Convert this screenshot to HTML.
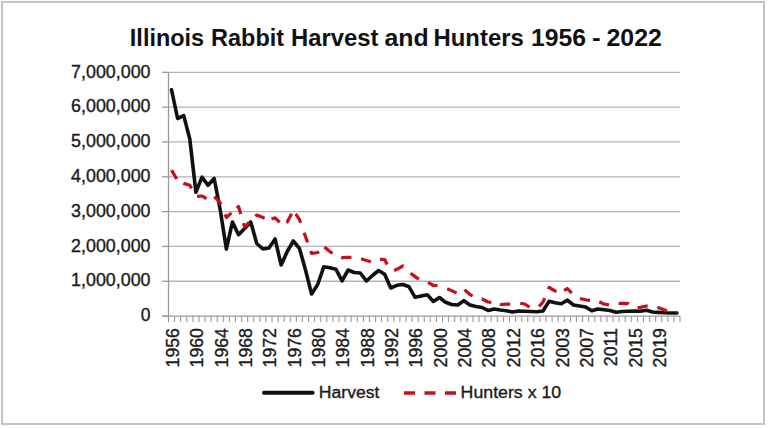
<!DOCTYPE html>
<html><head><meta charset="utf-8"><style>
html,body{margin:0;padding:0;background:#fff;}
body{width:768px;height:428px;overflow:hidden;position:relative;}
.frame{position:absolute;left:1px;top:1px;width:760px;height:420px;border:2px solid #c4c4c4;box-sizing:content-box;}
svg{position:absolute;left:0;top:0;}
.lb{font-family:"Liberation Sans",sans-serif;font-size:17.3px;fill:#1a1a1a;stroke:#1a1a1a;stroke-width:0.35px;}
.tt{font-family:"Liberation Sans",sans-serif;font-size:24.7px;font-weight:bold;fill:#111;}
</style></head><body>
<div class="frame"></div>
<svg width="768" height="428" viewBox="0 0 768 428">
<line x1="168.5" y1="281.27" x2="680.0" y2="281.27" stroke="#b3b3b3" stroke-width="1.3"/>
<line x1="168.5" y1="246.44" x2="680.0" y2="246.44" stroke="#b3b3b3" stroke-width="1.3"/>
<line x1="168.5" y1="211.61" x2="680.0" y2="211.61" stroke="#b3b3b3" stroke-width="1.3"/>
<line x1="168.5" y1="176.79" x2="680.0" y2="176.79" stroke="#b3b3b3" stroke-width="1.3"/>
<line x1="168.5" y1="141.96" x2="680.0" y2="141.96" stroke="#b3b3b3" stroke-width="1.3"/>
<line x1="168.5" y1="107.13" x2="680.0" y2="107.13" stroke="#b3b3b3" stroke-width="1.3"/>
<line x1="168.5" y1="72.30" x2="680.0" y2="72.30" stroke="#b3b3b3" stroke-width="1.3"/>
<line x1="162" y1="316.10" x2="168.5" y2="316.10" stroke="#9a9a9a" stroke-width="1.3"/>
<line x1="162" y1="281.27" x2="168.5" y2="281.27" stroke="#9a9a9a" stroke-width="1.3"/>
<line x1="162" y1="246.44" x2="168.5" y2="246.44" stroke="#9a9a9a" stroke-width="1.3"/>
<line x1="162" y1="211.61" x2="168.5" y2="211.61" stroke="#9a9a9a" stroke-width="1.3"/>
<line x1="162" y1="176.79" x2="168.5" y2="176.79" stroke="#9a9a9a" stroke-width="1.3"/>
<line x1="162" y1="141.96" x2="168.5" y2="141.96" stroke="#9a9a9a" stroke-width="1.3"/>
<line x1="162" y1="107.13" x2="168.5" y2="107.13" stroke="#9a9a9a" stroke-width="1.3"/>
<line x1="162" y1="72.30" x2="168.5" y2="72.30" stroke="#9a9a9a" stroke-width="1.3"/>
<line x1="168.5" y1="72.30" x2="168.5" y2="322.10" stroke="#9a9a9a" stroke-width="1.3"/>
<line x1="162.5" y1="316.10" x2="680.0" y2="316.10" stroke="#9a9a9a" stroke-width="1.3"/>
<line x1="174.59" y1="316.10" x2="174.59" y2="322.10" stroke="#9a9a9a" stroke-width="1.1"/>
<line x1="180.68" y1="316.10" x2="180.68" y2="322.10" stroke="#9a9a9a" stroke-width="1.1"/>
<line x1="186.77" y1="316.10" x2="186.77" y2="322.10" stroke="#9a9a9a" stroke-width="1.1"/>
<line x1="192.86" y1="316.10" x2="192.86" y2="322.10" stroke="#9a9a9a" stroke-width="1.1"/>
<line x1="198.95" y1="316.10" x2="198.95" y2="322.10" stroke="#9a9a9a" stroke-width="1.1"/>
<line x1="205.04" y1="316.10" x2="205.04" y2="322.10" stroke="#9a9a9a" stroke-width="1.1"/>
<line x1="211.12" y1="316.10" x2="211.12" y2="322.10" stroke="#9a9a9a" stroke-width="1.1"/>
<line x1="217.21" y1="316.10" x2="217.21" y2="322.10" stroke="#9a9a9a" stroke-width="1.1"/>
<line x1="223.30" y1="316.10" x2="223.30" y2="322.10" stroke="#9a9a9a" stroke-width="1.1"/>
<line x1="229.39" y1="316.10" x2="229.39" y2="322.10" stroke="#9a9a9a" stroke-width="1.1"/>
<line x1="235.48" y1="316.10" x2="235.48" y2="322.10" stroke="#9a9a9a" stroke-width="1.1"/>
<line x1="241.57" y1="316.10" x2="241.57" y2="322.10" stroke="#9a9a9a" stroke-width="1.1"/>
<line x1="247.66" y1="316.10" x2="247.66" y2="322.10" stroke="#9a9a9a" stroke-width="1.1"/>
<line x1="253.75" y1="316.10" x2="253.75" y2="322.10" stroke="#9a9a9a" stroke-width="1.1"/>
<line x1="259.84" y1="316.10" x2="259.84" y2="322.10" stroke="#9a9a9a" stroke-width="1.1"/>
<line x1="265.93" y1="316.10" x2="265.93" y2="322.10" stroke="#9a9a9a" stroke-width="1.1"/>
<line x1="272.02" y1="316.10" x2="272.02" y2="322.10" stroke="#9a9a9a" stroke-width="1.1"/>
<line x1="278.11" y1="316.10" x2="278.11" y2="322.10" stroke="#9a9a9a" stroke-width="1.1"/>
<line x1="284.20" y1="316.10" x2="284.20" y2="322.10" stroke="#9a9a9a" stroke-width="1.1"/>
<line x1="290.29" y1="316.10" x2="290.29" y2="322.10" stroke="#9a9a9a" stroke-width="1.1"/>
<line x1="296.38" y1="316.10" x2="296.38" y2="322.10" stroke="#9a9a9a" stroke-width="1.1"/>
<line x1="302.46" y1="316.10" x2="302.46" y2="322.10" stroke="#9a9a9a" stroke-width="1.1"/>
<line x1="308.55" y1="316.10" x2="308.55" y2="322.10" stroke="#9a9a9a" stroke-width="1.1"/>
<line x1="314.64" y1="316.10" x2="314.64" y2="322.10" stroke="#9a9a9a" stroke-width="1.1"/>
<line x1="320.73" y1="316.10" x2="320.73" y2="322.10" stroke="#9a9a9a" stroke-width="1.1"/>
<line x1="326.82" y1="316.10" x2="326.82" y2="322.10" stroke="#9a9a9a" stroke-width="1.1"/>
<line x1="332.91" y1="316.10" x2="332.91" y2="322.10" stroke="#9a9a9a" stroke-width="1.1"/>
<line x1="339.00" y1="316.10" x2="339.00" y2="322.10" stroke="#9a9a9a" stroke-width="1.1"/>
<line x1="345.09" y1="316.10" x2="345.09" y2="322.10" stroke="#9a9a9a" stroke-width="1.1"/>
<line x1="351.18" y1="316.10" x2="351.18" y2="322.10" stroke="#9a9a9a" stroke-width="1.1"/>
<line x1="357.27" y1="316.10" x2="357.27" y2="322.10" stroke="#9a9a9a" stroke-width="1.1"/>
<line x1="363.36" y1="316.10" x2="363.36" y2="322.10" stroke="#9a9a9a" stroke-width="1.1"/>
<line x1="369.45" y1="316.10" x2="369.45" y2="322.10" stroke="#9a9a9a" stroke-width="1.1"/>
<line x1="375.54" y1="316.10" x2="375.54" y2="322.10" stroke="#9a9a9a" stroke-width="1.1"/>
<line x1="381.62" y1="316.10" x2="381.62" y2="322.10" stroke="#9a9a9a" stroke-width="1.1"/>
<line x1="387.71" y1="316.10" x2="387.71" y2="322.10" stroke="#9a9a9a" stroke-width="1.1"/>
<line x1="393.80" y1="316.10" x2="393.80" y2="322.10" stroke="#9a9a9a" stroke-width="1.1"/>
<line x1="399.89" y1="316.10" x2="399.89" y2="322.10" stroke="#9a9a9a" stroke-width="1.1"/>
<line x1="405.98" y1="316.10" x2="405.98" y2="322.10" stroke="#9a9a9a" stroke-width="1.1"/>
<line x1="412.07" y1="316.10" x2="412.07" y2="322.10" stroke="#9a9a9a" stroke-width="1.1"/>
<line x1="418.16" y1="316.10" x2="418.16" y2="322.10" stroke="#9a9a9a" stroke-width="1.1"/>
<line x1="424.25" y1="316.10" x2="424.25" y2="322.10" stroke="#9a9a9a" stroke-width="1.1"/>
<line x1="430.34" y1="316.10" x2="430.34" y2="322.10" stroke="#9a9a9a" stroke-width="1.1"/>
<line x1="436.43" y1="316.10" x2="436.43" y2="322.10" stroke="#9a9a9a" stroke-width="1.1"/>
<line x1="442.52" y1="316.10" x2="442.52" y2="322.10" stroke="#9a9a9a" stroke-width="1.1"/>
<line x1="448.61" y1="316.10" x2="448.61" y2="322.10" stroke="#9a9a9a" stroke-width="1.1"/>
<line x1="454.70" y1="316.10" x2="454.70" y2="322.10" stroke="#9a9a9a" stroke-width="1.1"/>
<line x1="460.79" y1="316.10" x2="460.79" y2="322.10" stroke="#9a9a9a" stroke-width="1.1"/>
<line x1="466.88" y1="316.10" x2="466.88" y2="322.10" stroke="#9a9a9a" stroke-width="1.1"/>
<line x1="472.96" y1="316.10" x2="472.96" y2="322.10" stroke="#9a9a9a" stroke-width="1.1"/>
<line x1="479.05" y1="316.10" x2="479.05" y2="322.10" stroke="#9a9a9a" stroke-width="1.1"/>
<line x1="485.14" y1="316.10" x2="485.14" y2="322.10" stroke="#9a9a9a" stroke-width="1.1"/>
<line x1="491.23" y1="316.10" x2="491.23" y2="322.10" stroke="#9a9a9a" stroke-width="1.1"/>
<line x1="497.32" y1="316.10" x2="497.32" y2="322.10" stroke="#9a9a9a" stroke-width="1.1"/>
<line x1="503.41" y1="316.10" x2="503.41" y2="322.10" stroke="#9a9a9a" stroke-width="1.1"/>
<line x1="509.50" y1="316.10" x2="509.50" y2="322.10" stroke="#9a9a9a" stroke-width="1.1"/>
<line x1="515.59" y1="316.10" x2="515.59" y2="322.10" stroke="#9a9a9a" stroke-width="1.1"/>
<line x1="521.68" y1="316.10" x2="521.68" y2="322.10" stroke="#9a9a9a" stroke-width="1.1"/>
<line x1="527.77" y1="316.10" x2="527.77" y2="322.10" stroke="#9a9a9a" stroke-width="1.1"/>
<line x1="533.86" y1="316.10" x2="533.86" y2="322.10" stroke="#9a9a9a" stroke-width="1.1"/>
<line x1="539.95" y1="316.10" x2="539.95" y2="322.10" stroke="#9a9a9a" stroke-width="1.1"/>
<line x1="546.04" y1="316.10" x2="546.04" y2="322.10" stroke="#9a9a9a" stroke-width="1.1"/>
<line x1="552.12" y1="316.10" x2="552.12" y2="322.10" stroke="#9a9a9a" stroke-width="1.1"/>
<line x1="558.21" y1="316.10" x2="558.21" y2="322.10" stroke="#9a9a9a" stroke-width="1.1"/>
<line x1="564.30" y1="316.10" x2="564.30" y2="322.10" stroke="#9a9a9a" stroke-width="1.1"/>
<line x1="570.39" y1="316.10" x2="570.39" y2="322.10" stroke="#9a9a9a" stroke-width="1.1"/>
<line x1="576.48" y1="316.10" x2="576.48" y2="322.10" stroke="#9a9a9a" stroke-width="1.1"/>
<line x1="582.57" y1="316.10" x2="582.57" y2="322.10" stroke="#9a9a9a" stroke-width="1.1"/>
<line x1="588.66" y1="316.10" x2="588.66" y2="322.10" stroke="#9a9a9a" stroke-width="1.1"/>
<line x1="594.75" y1="316.10" x2="594.75" y2="322.10" stroke="#9a9a9a" stroke-width="1.1"/>
<line x1="600.84" y1="316.10" x2="600.84" y2="322.10" stroke="#9a9a9a" stroke-width="1.1"/>
<line x1="606.93" y1="316.10" x2="606.93" y2="322.10" stroke="#9a9a9a" stroke-width="1.1"/>
<line x1="613.02" y1="316.10" x2="613.02" y2="322.10" stroke="#9a9a9a" stroke-width="1.1"/>
<line x1="619.11" y1="316.10" x2="619.11" y2="322.10" stroke="#9a9a9a" stroke-width="1.1"/>
<line x1="625.20" y1="316.10" x2="625.20" y2="322.10" stroke="#9a9a9a" stroke-width="1.1"/>
<line x1="631.29" y1="316.10" x2="631.29" y2="322.10" stroke="#9a9a9a" stroke-width="1.1"/>
<line x1="637.38" y1="316.10" x2="637.38" y2="322.10" stroke="#9a9a9a" stroke-width="1.1"/>
<line x1="643.46" y1="316.10" x2="643.46" y2="322.10" stroke="#9a9a9a" stroke-width="1.1"/>
<line x1="649.55" y1="316.10" x2="649.55" y2="322.10" stroke="#9a9a9a" stroke-width="1.1"/>
<line x1="655.64" y1="316.10" x2="655.64" y2="322.10" stroke="#9a9a9a" stroke-width="1.1"/>
<line x1="661.73" y1="316.10" x2="661.73" y2="322.10" stroke="#9a9a9a" stroke-width="1.1"/>
<line x1="667.82" y1="316.10" x2="667.82" y2="322.10" stroke="#9a9a9a" stroke-width="1.1"/>
<line x1="673.91" y1="316.10" x2="673.91" y2="322.10" stroke="#9a9a9a" stroke-width="1.1"/>
<line x1="680.00" y1="316.10" x2="680.00" y2="322.10" stroke="#9a9a9a" stroke-width="1.1"/>
<text x="150.5" y="321.30" text-anchor="end" class="lb" style="font-size:17.5px">0</text>
<text x="150.5" y="286.47" text-anchor="end" class="lb" style="font-size:17.5px" textLength="79.4" lengthAdjust="spacingAndGlyphs">1,000,000</text>
<text x="150.5" y="251.64" text-anchor="end" class="lb" style="font-size:17.5px" textLength="79.4" lengthAdjust="spacingAndGlyphs">2,000,000</text>
<text x="150.5" y="216.81" text-anchor="end" class="lb" style="font-size:17.5px" textLength="79.4" lengthAdjust="spacingAndGlyphs">3,000,000</text>
<text x="150.5" y="181.99" text-anchor="end" class="lb" style="font-size:17.5px" textLength="79.4" lengthAdjust="spacingAndGlyphs">4,000,000</text>
<text x="150.5" y="147.16" text-anchor="end" class="lb" style="font-size:17.5px" textLength="79.4" lengthAdjust="spacingAndGlyphs">5,000,000</text>
<text x="150.5" y="112.33" text-anchor="end" class="lb" style="font-size:17.5px" textLength="79.4" lengthAdjust="spacingAndGlyphs">6,000,000</text>
<text x="150.5" y="77.50" text-anchor="end" class="lb" style="font-size:17.5px" textLength="79.4" lengthAdjust="spacingAndGlyphs">7,000,000</text>
<text transform="translate(178.84,328.10) rotate(-90)" text-anchor="end" class="lb" style="font-size:17.7px">1956</text>
<text transform="translate(203.20,328.10) rotate(-90)" text-anchor="end" class="lb" style="font-size:17.7px">1960</text>
<text transform="translate(227.56,328.10) rotate(-90)" text-anchor="end" class="lb" style="font-size:17.7px">1964</text>
<text transform="translate(251.92,328.10) rotate(-90)" text-anchor="end" class="lb" style="font-size:17.7px">1968</text>
<text transform="translate(276.27,328.10) rotate(-90)" text-anchor="end" class="lb" style="font-size:17.7px">1972</text>
<text transform="translate(300.63,328.10) rotate(-90)" text-anchor="end" class="lb" style="font-size:17.7px">1976</text>
<text transform="translate(324.99,328.10) rotate(-90)" text-anchor="end" class="lb" style="font-size:17.7px">1980</text>
<text transform="translate(349.34,328.10) rotate(-90)" text-anchor="end" class="lb" style="font-size:17.7px">1984</text>
<text transform="translate(373.70,328.10) rotate(-90)" text-anchor="end" class="lb" style="font-size:17.7px">1988</text>
<text transform="translate(398.06,328.10) rotate(-90)" text-anchor="end" class="lb" style="font-size:17.7px">1992</text>
<text transform="translate(422.42,328.10) rotate(-90)" text-anchor="end" class="lb" style="font-size:17.7px">1996</text>
<text transform="translate(446.77,328.10) rotate(-90)" text-anchor="end" class="lb" style="font-size:17.7px">2000</text>
<text transform="translate(471.13,328.10) rotate(-90)" text-anchor="end" class="lb" style="font-size:17.7px">2004</text>
<text transform="translate(495.49,328.10) rotate(-90)" text-anchor="end" class="lb" style="font-size:17.7px">2008</text>
<text transform="translate(519.84,328.10) rotate(-90)" text-anchor="end" class="lb" style="font-size:17.7px">2012</text>
<text transform="translate(544.20,328.10) rotate(-90)" text-anchor="end" class="lb" style="font-size:17.7px">2016</text>
<text transform="translate(568.56,328.10) rotate(-90)" text-anchor="end" class="lb" style="font-size:17.7px">2003</text>
<text transform="translate(592.92,328.10) rotate(-90)" text-anchor="end" class="lb" style="font-size:17.7px">2007</text>
<text transform="translate(617.27,328.10) rotate(-90)" text-anchor="end" class="lb" style="font-size:17.7px">2011</text>
<text transform="translate(641.63,328.10) rotate(-90)" text-anchor="end" class="lb" style="font-size:17.7px">2015</text>
<text transform="translate(665.99,328.10) rotate(-90)" text-anchor="end" class="lb" style="font-size:17.7px">2019</text>
<polyline points="171.54,89.80 177.63,118.50 183.72,115.60 189.81,139.00 195.90,192.30 201.99,177.20 208.08,185.30 214.17,178.50 220.26,210.00 226.35,249.00 232.44,222.00 238.53,234.70 244.62,228.50 250.71,222.00 256.79,243.50 262.88,249.00 268.97,248.00 275.06,239.00 281.15,265.00 287.24,251.50 293.33,241.00 299.42,248.30 305.51,270.00 311.60,294.00 317.69,284.50 323.78,266.80 329.87,267.80 335.96,269.30 342.04,280.80 348.13,270.00 354.22,272.50 360.31,273.00 366.40,281.00 372.49,275.50 378.58,270.50 384.67,274.30 390.76,288.00 396.85,285.30 402.94,284.50 409.03,286.80 415.12,297.30 421.21,296.00 427.29,294.80 433.38,301.50 439.47,297.50 445.56,302.30 451.65,304.50 457.74,305.00 463.83,300.70 469.92,305.00 476.01,306.50 482.10,307.50 488.19,310.50 494.28,309.00 500.37,310.00 506.46,310.80 512.54,312.00 518.63,311.00 524.72,311.30 530.81,311.50 536.90,311.80 542.99,311.00 549.08,301.20 555.17,302.80 561.26,303.80 567.35,300.20 573.44,305.00 579.53,306.00 585.62,307.00 591.71,310.80 597.79,309.00 603.88,309.80 609.97,310.50 616.06,312.30 622.15,311.50 628.24,311.20 634.33,311.00 640.42,311.30 646.51,310.30 652.60,312.00 658.69,312.40 664.78,312.80 670.87,313.00 676.96,313.00" fill="none" stroke="#111" stroke-width="3.6" stroke-linejoin="round" stroke-linecap="round"/>
<g><polyline points="171.54,170.10 176.75,178.99" fill="none" stroke="#c4101c" stroke-width="3.2" stroke-linejoin="round" stroke-linecap="butt"/><polyline points="183.34,183.22 183.72,183.40 189.81,185.30 191.48,188.37" fill="none" stroke="#c4101c" stroke-width="3.2" stroke-linejoin="round" stroke-linecap="butt"/><polyline points="197.02,196.41 201.99,196.00 206.59,198.65" fill="none" stroke="#c4101c" stroke-width="3.2" stroke-linejoin="round" stroke-linecap="butt"/><polyline points="214.33,196.67 220.26,203.00 220.89,204.50" fill="none" stroke="#c4101c" stroke-width="3.2" stroke-linejoin="round" stroke-linecap="butt"/><polyline points="225.00,214.29 226.35,217.50 231.41,212.93" fill="none" stroke="#c4101c" stroke-width="3.2" stroke-linejoin="round" stroke-linecap="butt"/><polyline points="236.72,208.14 238.53,206.50 240.76,214.03" fill="none" stroke="#c4101c" stroke-width="3.2" stroke-linejoin="round" stroke-linecap="butt"/><polyline points="243.46,223.10 244.62,227.00 248.88,222.45" fill="none" stroke="#c4101c" stroke-width="3.2" stroke-linejoin="round" stroke-linecap="butt"/><polyline points="255.45,216.22 256.79,215.00 262.88,217.50 264.64,218.22" fill="none" stroke="#c4101c" stroke-width="3.2" stroke-linejoin="round" stroke-linecap="butt"/><polyline points="271.54,219.07 275.06,217.80 279.65,222.47" fill="none" stroke="#c4101c" stroke-width="3.2" stroke-linejoin="round" stroke-linecap="butt"/><polyline points="286.28,222.32 287.24,222.00 291.59,213.79" fill="none" stroke="#c4101c" stroke-width="3.2" stroke-linejoin="round" stroke-linecap="butt"/><polyline points="295.63,213.82 299.42,219.30 300.63,222.74" fill="none" stroke="#c4101c" stroke-width="3.2" stroke-linejoin="round" stroke-linecap="butt"/><polyline points="304.12,232.66 305.51,236.60 307.58,242.36" fill="none" stroke="#c4101c" stroke-width="3.2" stroke-linejoin="round" stroke-linecap="butt"/><polyline points="310.73,251.08 311.60,253.50 317.69,252.50 318.80,251.41" fill="none" stroke="#c4101c" stroke-width="3.2" stroke-linejoin="round" stroke-linecap="butt"/><polyline points="324.41,247.03 329.87,251.60 332.54,253.32" fill="none" stroke="#c4101c" stroke-width="3.2" stroke-linejoin="round" stroke-linecap="butt"/><polyline points="341.20,257.31 342.04,257.60 348.13,257.30 351.45,257.41" fill="none" stroke="#c4101c" stroke-width="3.2" stroke-linejoin="round" stroke-linecap="butt"/><polyline points="361.08,258.75 366.40,260.50 370.91,261.83" fill="none" stroke="#c4101c" stroke-width="3.2" stroke-linejoin="round" stroke-linecap="butt"/><polyline points="379.99,259.35 384.67,259.50 387.13,264.55" fill="none" stroke="#c4101c" stroke-width="3.2" stroke-linejoin="round" stroke-linecap="butt"/><polyline points="394.16,270.49 396.85,269.30 402.94,266.00 403.25,266.31" fill="none" stroke="#c4101c" stroke-width="3.2" stroke-linejoin="round" stroke-linecap="butt"/><polyline points="410.57,273.17 415.12,276.60 418.85,279.30" fill="none" stroke="#c4101c" stroke-width="3.2" stroke-linejoin="round" stroke-linecap="butt"/><polyline points="428.04,282.43 433.38,285.50 437.52,285.50" fill="none" stroke="#c4101c" stroke-width="3.2" stroke-linejoin="round" stroke-linecap="butt"/><polyline points="447.18,288.69 451.65,290.60 456.56,292.94" fill="none" stroke="#c4101c" stroke-width="3.2" stroke-linejoin="round" stroke-linecap="butt"/><polyline points="464.51,289.61 469.92,294.50 472.62,295.83" fill="none" stroke="#c4101c" stroke-width="3.2" stroke-linejoin="round" stroke-linecap="butt"/><polyline points="481.75,298.91 482.10,299.00 488.19,302.00 491.30,302.51" fill="none" stroke="#c4101c" stroke-width="3.2" stroke-linejoin="round" stroke-linecap="butt"/><polyline points="499.88,304.38 500.37,304.50 506.46,304.20 510.16,304.20" fill="none" stroke="#c4101c" stroke-width="3.2" stroke-linejoin="round" stroke-linecap="butt"/><polyline points="520.24,303.26 524.72,304.00 529.53,307.16" fill="none" stroke="#c4101c" stroke-width="3.2" stroke-linejoin="round" stroke-linecap="butt"/><polyline points="539.01,306.57 542.99,302.00 544.63,298.09" fill="none" stroke="#c4101c" stroke-width="3.2" stroke-linejoin="round" stroke-linecap="butt"/><polyline points="548.36,289.22 549.08,287.50 555.17,291.00 556.54,291.34" fill="none" stroke="#c4101c" stroke-width="3.2" stroke-linejoin="round" stroke-linecap="butt"/><polyline points="564.09,290.64 567.35,288.50 571.73,293.17" fill="none" stroke="#c4101c" stroke-width="3.2" stroke-linejoin="round" stroke-linecap="butt"/><polyline points="579.96,298.59 585.62,299.80 590.10,300.32" fill="none" stroke="#c4101c" stroke-width="3.2" stroke-linejoin="round" stroke-linecap="butt"/><polyline points="599.25,301.71 603.88,304.00 608.94,304.83" fill="none" stroke="#c4101c" stroke-width="3.2" stroke-linejoin="round" stroke-linecap="butt"/><polyline points="618.61,303.42 622.15,303.30 628.24,303.60 628.76,304.00" fill="none" stroke="#c4101c" stroke-width="3.2" stroke-linejoin="round" stroke-linecap="butt"/><polyline points="637.57,307.82 640.42,307.40 646.51,306.00 647.68,306.10" fill="none" stroke="#c4101c" stroke-width="3.2" stroke-linejoin="round" stroke-linecap="butt"/><polyline points="657.29,307.50 658.69,307.80 664.78,310.00 667.00,310.91" fill="none" stroke="#c4101c" stroke-width="3.2" stroke-linejoin="round" stroke-linecap="butt"/><polyline points="676.36,312.95 676.96,313.00 676.96,313.00" fill="none" stroke="#c4101c" stroke-width="3.2" stroke-linejoin="round" stroke-linecap="butt"/></g>
<line x1="264" y1="392.8" x2="312.6" y2="392.8" stroke="#111" stroke-width="4" stroke-linecap="round"/>
<text x="318.8" y="398.1" class="lb" textLength="60.6" lengthAdjust="spacingAndGlyphs">Harvest</text>
<line x1="404" y1="393" x2="456" y2="393" stroke="#c4101c" stroke-width="3.4" stroke-dasharray="11 9.5"/>
<text x="460.6" y="398.1" class="lb" textLength="100.6" lengthAdjust="spacingAndGlyphs">Hunters x 10</text>
<text x="129.85" y="46" class="tt" textLength="74.28" lengthAdjust="spacingAndGlyphs">Illinois</text>
<text x="211.10" y="46" class="tt" textLength="72.97" lengthAdjust="spacingAndGlyphs">Rabbit</text>
<text x="291.07" y="46" class="tt" textLength="87.49" lengthAdjust="spacingAndGlyphs">Harvest</text>
<text x="384.49" y="46" class="tt" textLength="44.16" lengthAdjust="spacingAndGlyphs">and</text>
<text x="433.57" y="46" class="tt" textLength="90.17" lengthAdjust="spacingAndGlyphs">Hunters</text>
<text x="530.90" y="46" class="tt" textLength="55.03" lengthAdjust="spacingAndGlyphs">1956</text>
<text x="592.05" y="46" class="tt" textLength="8.65" lengthAdjust="spacingAndGlyphs">-</text>
<text x="606.49" y="46" class="tt" textLength="55.44" lengthAdjust="spacingAndGlyphs">2022</text>
</svg>
</body></html>
